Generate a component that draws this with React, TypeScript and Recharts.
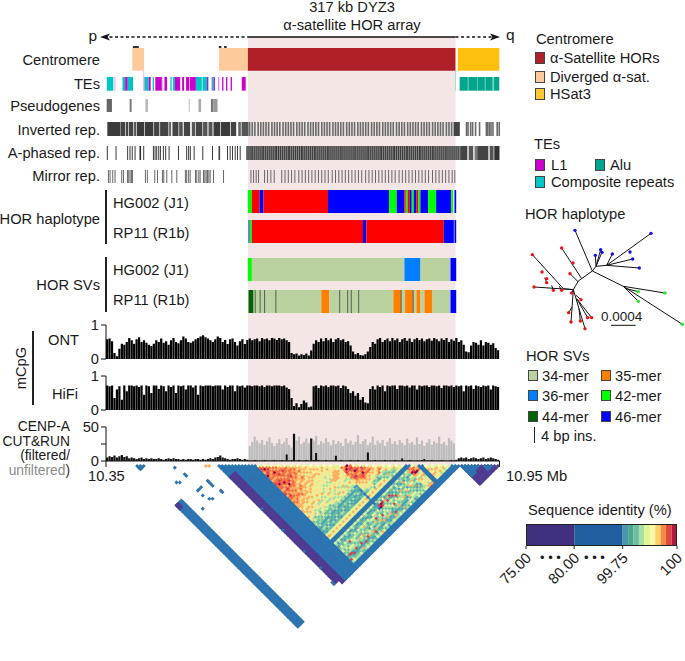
import React from "react";
import {
  Bar,
  BarChart,
  ComposedChart,
  Line,
  ReferenceArea,
  ReferenceLine,
  Scatter,
  ScatterChart,
  XAxis,
  YAxis,
} from "recharts";

const FONT = '"Liberation Sans", Arial, sans-serif';
const PLOT_LEFT = 106;
const PLOT_W = 393.5;
const CHART_W = PLOT_LEFT + PLOT_W + 6;
const X_DOMAIN: [number, number] = [0, 600]; // kb from 10.35 Mb

const RED = "#ff0000";
const BLUE = "#0000ff";
const GREEN = "#00ff00";
const SAGE = "#b9d2a0";
const ORANGE = "#ff8000";
const SKY = "#0080ff";
const DKGREEN = "#006400";
const MAGENTA = "#cc00cc";
const CYAN = "#00c5c5";
const TEAL = "#00a78c";

type Span = [number, number, string];

const centromereSpans: Span[] = [
  [40, 58, "#fdca9b"],
  [172.5, 216.3, "#fdca9b"],
  [216.3, 533, "#b02028"],
  [536.5, 600, "#ffbf0f"],
];
const centromereMarks: Span[] = [
  [41, 50, "#333"],
  [172, 176, "#333"],
  [180, 184, "#333"],
];
const connectorSpans: Span[] = [
  [57, 58, "#e8a0e8"],
  [533, 533.8, "#60c8c0"],
];

const teSpans: Span[] = [
  [1, 11, CYAN], [13, 14, "#e070e0"], [25, 29, CYAN], [29, 33, MAGENTA], [33, 41, CYAN],
  [57, 59, "#e070e0"], [59, 65, CYAN], [65, 68, MAGENTA], [71, 73, CYAN], [75, 85, MAGENTA],
  [85, 86, "#e070e0"], [89, 93, MAGENTA], [98, 100, CYAN], [102, 105, CYAN], [105, 113, MAGENTA],
  [116, 119, MAGENTA], [122, 127, MAGENTA], [128, 137, MAGENTA], [137, 146, CYAN], [147, 154, CYAN],
  [154, 156, MAGENTA], [161, 164, CYAN], [164, 166, MAGENTA], [171.5, 172.5, MAGENTA],
  [177, 179, MAGENTA], [183, 185, MAGENTA], [190, 192, MAGENTA], [207, 213, MAGENTA],
  [533, 533.8, "#60c8c0"], [539.5, 552, TEAL], [552, 553, "#50c0a8"], [553, 566, TEAL],
  [566, 567, "#50c0a8"], [567, 578, TEAL], [578, 579, "#50c0a8"], [579, 590, TEAL],
  [590, 592, "#80d0c0"], [592, 600, TEAL],
];

const pseudogeneSpans: Span[] = [
  [1, 9, "#666"], [36, 39, "#777"], [60, 64, "#bbb"], [126, 128, "#ccc"],
  [141, 145, "#aaa"], [160, 164, "#777"], [164, 170, "#999"],
];

const invertedSpans: Span[] = [
  [2, 21.4, "#3b3b3b"], [21.9, 29, "#444"], [30, 34, "#444"], [35, 41.7, "#444"], [42.8, 45.8, "#555"],
  [46.8, 58, "#3b3b3b"], [59, 72.3, "#3b3b3b"], [73.3, 81.4, "#444"], [82.5, 95.2, "#444"],
  [96.2, 99.3, "#666"], [101.3, 110.5, "#444"], [111.5, 117, "#555"], [118.6, 128.3, "#444"],
  [130.8, 135.9, "#555"], [136.9, 147, "#444"], [148, 154.7, "#555"], [156.3, 162.4, "#555"],
  [163.9, 174, "#3b3b3b"], [175, 189.3, "#3b3b3b"], [190.4, 198.5, "#444"], [201.6, 205.6, "#666"],
  [206.7, 217.3, "#555"], [530, 539.5, "#444"],
];
const invertedTicks = [
  219, 223, 227, 232, 236, 240, 244, 248, 253, 257, 261, 265, 270, 274, 278, 282, 286, 291, 295, 299,
  303, 308, 312, 316, 320, 324, 329, 333, 337, 341, 346, 350, 354, 358, 362, 367, 371, 375, 379, 384,
  388, 392, 396, 400, 405, 409, 413, 417, 422, 426, 430, 434, 438, 443, 447, 451, 455, 460, 464, 468,
  472, 476, 481, 485, 489, 493, 498, 502, 506, 510, 514, 519, 523, 527,
  549.7, 552, 556, 559, 563.5, 569.6, 580, 582, 584.5, 587, 590, 596.5, 599.6,
];

const aPhasedSpans: Span[] = [
  [214, 539.5, "#8a8a8a"], [51, 53.5, "#333"], [171.5, 174, "#444"],
  [540, 551, "#444"], [553, 560, "#555"], [562, 566, "#777"], [566, 583, "#444"],
  [585, 591, "#555"], [592, 600, "#333"],
];
const aPhasedTicks = [
  2, 15.3, 33, 36.6, 40, 44.3, 57.5, 72.3, 74.8, 77.3, 80.4, 83, 87.5, 91, 96.2, 110.5, 123, 126, 128.6,
  134.4, 147.6, 162.4, 185.3, 189.3, 192.9, 197, 200.5, 204.6,
  215, 218, 221, 223, 226, 229, 232, 235, 238, 240, 243, 246, 249, 252, 255, 258, 260, 263, 266, 269,
  272, 275, 278, 280, 283, 286, 289, 292, 295, 298, 300, 303, 306, 309, 312, 315, 318, 320, 323, 326,
  329, 332, 335, 338, 340, 343, 346, 349, 352, 355, 358, 360, 363, 366, 369, 372, 375, 378, 380, 383,
  386, 389, 392, 395, 398, 400, 403, 406, 409, 412, 415, 418, 420, 423, 426, 429, 432, 435, 438, 440,
  443, 446, 449, 452, 455, 458, 460, 463, 466, 469, 472, 475, 478, 480, 483, 486, 489, 492, 495, 498,
  500, 503, 506, 509, 512, 515, 518, 520, 523, 526, 529, 532, 535, 538,
];

const mirrorTicks = [
  3.6, 6.1, 10.2, 13.7, 23.9, 26.5, 32.6, 34.6, 36.6, 38.7, 40.2, 60, 63, 74.3, 78.4, 86, 88, 92.6, 100.3,
  107.9, 121, 123, 126, 128.3, 136.4, 138.4, 141.5, 143.5, 148.6, 150.7, 152.7, 154.7, 156.8, 158.8,
  163.9, 179.2, 221, 225, 229, 232.6, 241.8, 246.4, 251.4, 256.5, 268, 273, 278, 283, 288, 294, 299, 304,
  309, 314, 319, 324, 329, 334, 339, 345, 350, 355, 360, 365, 370, 375, 380, 385, 390, 396, 401, 406,
  411, 416, 421, 426, 431, 436, 441, 447, 452, 457, 462, 467, 472, 477, 482, 487, 492, 498, 503, 508,
  513, 518, 523, 528, 532,
];

const hapHG002: Span[] = [
  [216.3, 222.4, GREEN], [222.4, 234.1, RED], [234.1, 240.2, BLUE], [240.2, 338.5, RED], [338.5, 431.6, BLUE],
  [431.6, 443.3, GREEN], [443.3, 455, BLUE], [455, 457.1, RED], [457.1, 460.1, GREEN], [460.1, 463.2, RED],
  [463.2, 466.2, BLUE], [466.2, 469.3, GREEN], [469.3, 473.4, BLUE], [473.4, 476.4, RED], [476.4, 479.5, GREEN],
  [479.5, 491.2, BLUE], [491.2, 503.4, GREEN], [503.4, 526.3, BLUE], [526.3, 529.4, GREEN], [531.4, 534, BLUE],
];
const hapRP11: Span[] = [
  [217.3, 218.9, BLUE], [218.9, 222.4, GREEN], [222.4, 391.9, RED], [391.9, 397, BLUE], [397, 515.1, RED],
  [515.1, 530.4, BLUE], [531.4, 534, BLUE],
];
const svHG002: Span[] = [
  [216.3, 222.4, GREEN], [222.4, 455, SAGE], [455, 479.5, SKY], [479.5, 525.3, SAGE], [525.3, 534, BLUE],
];
const svRP11: Span[] = [
  [217.3, 225, DKGREEN], [225, 328.3, SAGE], [328.3, 340.5, ORANGE], [340.5, 438.2, SAGE], [438.2, 450, ORANGE],
  [450, 456, SAGE], [456, 468.3, ORANGE], [468.3, 473.4, SAGE], [473.4, 479.5, ORANGE], [479.5, 485.6, SAGE],
  [485.6, 497.8, ORANGE], [497.8, 525.3, SAGE], [525.3, 534, BLUE],
];
const insertionTicks = [227.5, 235, 241.8, 259, 356.3, 368.5, 374, 385.3, 450, 468.3];

const BIN_KB = 3.75;
const ontValues = [
  0.58, 0.6, 0.52, 0.18, 0.08, 0.3, 0.45, 0.42, 0.5, 0.62, 0.55, 0.45, 0.58, 0.64, 0.5, 0.55, 0.48, 0.42, 0.38, 0.45,
  0.55, 0.5, 0.6, 0.48, 0.52, 0.42, 0.55, 0.62, 0.5, 0.46, 0.55, 0.66, 0.6, 0.5, 0.48, 0.52, 0.58, 0.62, 0.66, 0.7,
  0.64, 0.6, 0.55, 0.5, 0.58, 0.66, 0.62, 0.5, 0.56, 0.44, 0.58, 0.6, 0.5, 0.4, 0.52, 0.58, 0.44, 0.56, 0.6, 0.55,
  0.58, 0.6, 0.52, 0.62, 0.58, 0.6, 0.55, 0.62, 0.6, 0.56, 0.62, 0.58, 0.6, 0.55, 0.5, 0.18, 0.14, 0.16, 0.1, 0.14,
  0.12, 0.16, 0.1, 0.25, 0.45, 0.55, 0.5, 0.6, 0.52, 0.62, 0.55, 0.6, 0.5, 0.58, 0.62, 0.55, 0.58, 0.5, 0.52, 0.4,
  0.22, 0.14, 0.18, 0.12, 0.1, 0.14, 0.22, 0.35, 0.5, 0.45, 0.58, 0.62, 0.5, 0.56, 0.6, 0.52, 0.62, 0.55, 0.6, 0.5,
  0.58, 0.62, 0.54, 0.6, 0.5, 0.58, 0.62, 0.56, 0.6, 0.52, 0.58, 0.6, 0.54, 0.62, 0.58, 0.52, 0.6, 0.56, 0.62, 0.5,
  0.58, 0.54, 0.62, 0.5, 0.55, 0.42, 0.22, 0.2, 0.4, 0.5, 0.48, 0.42, 0.55, 0.4, 0.5, 0.48, 0.42, 0.46, 0.32, 0.26,
];
const hifiValues = [
  0.72, 0.7, 0.72, 0.35, 0.6, 0.7, 0.3, 0.72, 0.55, 0.72, 0.72, 0.7, 0.72, 0.68, 0.72, 0.45, 0.72, 0.7, 0.5, 0.72,
  0.72, 0.62, 0.72, 0.7, 0.55, 0.72, 0.68, 0.72, 0.5, 0.72, 0.7, 0.72, 0.6, 0.72, 0.72, 0.66, 0.72, 0.45, 0.72, 0.7,
  0.72, 0.72, 0.72, 0.7, 0.72, 0.72, 0.72, 0.6, 0.72, 0.68, 0.72, 0.72, 0.55, 0.72, 0.7, 0.72, 0.66, 0.72, 0.72, 0.7,
  0.72, 0.72, 0.7, 0.72, 0.68, 0.72, 0.72, 0.7, 0.72, 0.72, 0.72, 0.7, 0.72, 0.66, 0.62, 0.35, 0.12, 0.2, 0.08, 0.18,
  0.28, 0.22, 0.08, 0.1, 0.7, 0.72, 0.65, 0.72, 0.7, 0.72, 0.68, 0.72, 0.72, 0.7, 0.72, 0.65, 0.72, 0.7, 0.62, 0.5,
  0.55, 0.42, 0.5, 0.3, 0.38, 0.22, 0.2, 0.62, 0.7, 0.6, 0.72, 0.68, 0.72, 0.55, 0.72, 0.7, 0.72, 0.72, 0.62, 0.72,
  0.72, 0.7, 0.72, 0.66, 0.72, 0.72, 0.6, 0.72, 0.7, 0.72, 0.72, 0.68, 0.72, 0.72, 0.7, 0.72, 0.65, 0.72, 0.72, 0.7,
  0.72, 0.68, 0.72, 0.7, 0.72, 0.55, 0.72, 0.7, 0.72, 0.62, 0.72, 0.7, 0.68, 0.72, 0.7, 0.72, 0.6, 0.72, 0.7, 0.68,
];
const cenpFiltered = [
  5, 7, 6, 8, 5, 7, 9, 6, 7, 4, 5, 4, 3, 4, 5, 3, 4, 3, 4, 3, 3, 4, 3, 2, 3, 4, 3, 4, 3, 3, 2, 3, 2, 3, 3, 2, 3, 3, 2, 3,
  2, 3, 4, 3, 5, 6, 8, 5, 4, 3, 2, 3, 3, 4, 3, 2, 3, 2,
  1, 1, 2, 1, 1, 1, 2, 1, 1, 1, 2, 1, 1, 2, 1, 10, 1, 2, 40, 1, 2, 1, 1, 2, 1, 33, 2, 12, 2, 1, 1, 2, 1, 1, 1, 8,
  1, 2, 1, 1, 1, 2, 1, 1, 2, 1, 1, 1, 13, 1, 1, 2, 1, 1, 1, 2, 1, 1, 1, 2, 1, 1, 4, 1, 1, 2, 1, 1, 1, 1, 2, 3,
  1, 1, 2, 1, 1, 1, 2, 1, 1, 1, 2, 1,
  2, 4, 5, 4, 5, 3, 4, 5, 4, 3, 4, 5, 3, 4, 5, 4, 3, 2,
];
const CENP_HOR_FIRST_BIN = 58;
const cenpUnfilteredHor = [
  22, 28, 36, 30, 26, 31, 24, 29, 35, 27, 22, 26, 32, 25, 28, 34, 24, 20, 27, 30,
  36, 25, 28, 33, 26, 22, 30, 37, 24, 29, 26, 34, 28, 23, 31, 25, 29, 27, 22, 33,
  26, 30, 24, 28, 38, 25, 29, 32, 23, 27, 36, 24, 30, 26, 31, 22, 28, 34, 25, 29,
  24, 31, 27, 23, 33, 26, 28, 24, 35, 25, 30, 22, 27, 32, 24, 29, 26, 36, 25, 28,
  23, 34, 30, 26,
];

// identity levels of the pairwise heatmap
const heatColors: Record<string, string> = {
  P: "#4e3a92",
  B: "#2b74b0",
  t: "#4f9fb0",
  g: "#69c1a4",
  l: "#abdda4",
  y: "#e2f49a",
  w: "#ffffbf",
  o: "#fee08b",
  O: "#fdae61",
  r: "#f46d43",
  R: "#d53e4f",
  D: "#9e0142",
};
const HEAT_BIN_KB = 5;
const HEAT_FIRST_ROW = 46;
// one row per left-hand bin of the HOR array, cells run from the diagonal out
const heatRows = [
  "wrRrOrDrrOrRrr rOrROrrOrOO OoOOyoOyogl lgtgtgyOy BB yltglygltgRl",
  "yrDrRrOrOrrDr rOrOrRrOOrO OOyoOoyolyg gltlgtyOy BB ltgylglgRgly",
  "wrRrOrrOrRrr OrRrOOrOrOo OoyOoOyoglg ltgltgyoy BB ylgglyglRtgl",
  "yrOrDrrOrrD rOrOrOOrOoO OyoOoyolygl gtgtlgyOy BB ltgylgyltRgl",
  "wrOrrRrOrr rDrOOrOrOoO oOyoOylyolg ltgltgyoy BB ygtlglylgtgl",
  "yrOrOrrOr ROrrOOoOrOo OoyOyoylgly gtltgtyOy BB ltglRgylRtgy",
  "wOrRrOrr OrrOoOrOoOo OyoOyoylyog ltgtlgyoy BB yltgylglgtlg",
  "yOrrOrR rOOoOrOoOOy oOyoylyoylg gltgtgyOy BB lgtglylgltOg",
  "wrOrrO OrOoOoOOyoO yoyoOlyolyg ltgtlgyoy BB ytlgyglgRtgl",
  "yOrOr rOoOOoOyoOo yoOyolyoylg gtgltgyOy BB ltgylgOlgtly",
  "wOrO OoOrOoOyOoy oyoylyolygl ltgtgtyoy BB yltglgylgRgl",
  "yOo rOoOoyOoOoy oyoOylyloyg gltglgyOy BB lgtylgOgltgy",
  "wO OoOyoOoOoyo yoylyoylyol ltgtlgyoy BB ytglgyglRtlg",
  "y oOoOyoOoyoy oylyoOyolyl gtgltgyOy BB ltgylglgOgtl",
  "wOoyOoOoyoy ylyoylyolyo ltgtgtyoy BB ygtlOglylgtg",
  "yoOoyOyoyo oylyOyolyly gtlgtgyOy BB ltgylgtlOgly",
  "woOyoOyoy ylyoyolyOyl ltgtlgyoy BB ytgltgylgRtl",
  "yoOoyoyl oylyoOyolyo gtgltgyOy BB lgtylgltOgly",
  "wyoOyoy ylOyoyloyOy ltgtgtyoy BB yltgyglgltgO",
  "yOoyoy oyOOyoylyoy gtglttyOy BB ltgtylOgltgy",
  "wyOoy yOOOyoyOlyl ltgtgtyoy BB ytgylRglgtlg",
  "yoyo OOOOoyoylOy gtltgtyOy BB ltgylglOgtyl",
  "wyo OOOyoylyoyl ltgltgyoy BB ygtlgylgOglt",
  "yo yOoyoylyOyl tgtgtgyOy BB ltgylgRlgtgl",
  "y yoyoyOylyoy tttBtBtBt BB BttBlgylOgtl",
  "wrOrRrOrOoO oyoylgyOy BB ltRDgylgltgy",
  "yrDrOrrRrO Ooyolgyoy BB gyDRlgylOgtl",
  "DrRrOrRrO oOyoylyOy BB ltRgylgltgOl",
  "rRrDrOrr OoOyolyoy BB gyOlgyltgRgl",
  "wrRrOrR rOoyoygOy BB ltgRlgylgtly",
  "yrOrDr OoOylgyoy BB ygOgylRgltgl",
  "wRrOr oOyoglyOy BB lgRtlgylOgty",
  "yrOr OoyolgyOy BB ytgRgylgltOg",
  "wOr oOylgtyoy BB lgtlRgylgtgl",
  "yO OoyOlgyOy BB ygltgOlygtlg",
  "w oyOrylgyo BB ltglgylOgtly",
  "wOrylglgy BB gyltOglgtlyg",
  "yOylgOly BB ltgyglglOgyl",
  "wyOlglg BB ygtlgyOglylt",
  "yoylgy BB glOgltyglylg",
  "wylgl BB lgtylOglgyly",
  "yOly BB yglglyOgltyg",
  "wyo BB gltgOylgtlgy",
  "yy BB ylgylgltOglg",
  "w BB lOgylgyltgly",
  "BB rODrOyOyoyly",
  "B OrRDOylOyoyO",
  "wrODlyOyoylO",
  "yOryoOlyoyO",
  "BBBBBBBBBB",
  "BBBBBBBBB",
  "wyOoyOoy",
  "yoOyOoy",
  "wyOoyo",
  "yOyOl",
  "wyoy",
  "yOl",
  "wy",
  "y",
];
// rectangles in bin space: first row, last row, first col, last col, level
const heatBlocks: [number, number, number, number, string][] = [
  [34, 37, 34, 40, "B"],
  [34, 35, 41, 105, "P"],
  [36, 37, 41, 107, "P"],
  [38, 45, 38, 107, "B"],
  [46, 104, 105, 107, "B"],
  [105, 107, 105, 107, "B"],
  [33, 33, 104, 105, "B"],
  [34, 34, 60, 60, "B"],
  [34, 34, 73, 73, "B"],
  [34, 34, 86, 86, "B"],
  [34, 34, 96, 96, "B"],
  [9, 11, 9, 11, "B"],
  [9, 12, 33, 107, "B"],
  [9, 10, 33, 35, "P"],
  [108, 119, 108, 119, "P"],
  [108, 110, 108, 114, "B"],
  [111, 113, 111, 113, "B"],
  [115, 118, 115, 117, "B"],
  [20, 20, 21, 21, "B"],
  [21, 21, 26, 27, "B"],
  [16, 16, 26, 26, "B"],
  [17, 17, 27, 27, "B"],
  [26, 26, 35, 38, "B"],
  [20, 22, 35, 35, "B"],
  [20, 20, 38, 38, "B"],
  [27, 27, 42, 43, "B"],
  [21, 21, 41, 41, "B"],
  [22, 22, 42, 42, "B"],
  [16, 16, 42, 42, "B"],
  [30, 30, 30, 30, "O"],
  [31, 31, 31, 31, "O"],
];

const treeTipsRed = [
  [67, 763], [96, 815], [110, 835], [110, 847], [72, 860], [130, 870], [155, 870], [155, 743], [189, 788],
  [180, 820], [185, 878], [176, 937], [183, 965], [213, 898], [211, 962], [225, 985], [233, 952], [245, 952],
];
const treeTipsBlue = [
  [195, 690], [256, 765], [272, 748], [276, 756], [307, 761], [423, 699], [360, 755], [368, 776], [388, 803],
];
const treeTipsGreen = [
  [385, 874], [465, 878], [385, 903], [517, 972],
];
const treeBranches = [
  [190, 868, 205, 842], [205, 842, 247, 812], [247, 812, 195, 690], [247, 812, 258, 798], [258, 798, 256, 765],
  [258, 798, 272, 748], [258, 798, 276, 756], [258, 798, 290, 795], [290, 795, 307, 761], [290, 795, 423, 699],
  [290, 795, 368, 776], [290, 795, 388, 803], [247, 812, 340, 858], [340, 858, 517, 972], [340, 858, 465, 878],
  [340, 858, 385, 903], [350, 865, 385, 874], [215, 835, 155, 743], [205, 845, 180, 820], [190, 868, 160, 865],
  [160, 865, 67, 763], [190, 868, 72, 860], [125, 855, 130, 870], [148, 858, 155, 870], [104, 832, 110, 847],
  [190, 868, 185, 878], [190, 868, 183, 965], [186, 920, 176, 937], [190, 868, 225, 985], [198, 885, 213, 898],
  [207, 925, 211, 962], [200, 895, 233, 952], [200, 895, 245, 952],
];
const treeScaleBar = [303, 975, 377, 975];

const colorbarSteps = [
  { value: 48, color: "#41307f" },
  { value: 48.3, color: "#225f9e" },
  { value: 5.4, color: "#4a97b0" },
  { value: 5.4, color: "#4aa888" },
  { value: 5.4, color: "#66bfa5" },
  { value: 5.4, color: "#abdda4" },
  { value: 5.4, color: "#dff58e" },
  { value: 5.4, color: "#fdf8a8" },
  { value: 5.4, color: "#fcd268" },
  { value: 5.4, color: "#f58a45" },
  { value: 5.4, color: "#e2453c" },
  { value: 5.3, color: "#b01840" },
];
const colorbarTickPos = [0, 48, 96.3, 150.4];
const colorbarTickText = ["75.00", "80.00", "99.75", "100"];

const centromereLegend = [
  { label: "α-Satellite HORs", color: "#b02028", y: 52 },
  { label: "Diverged α-sat.", color: "#fdca9b", y: 71 },
  { label: "HSat3", color: "#ffc832", y: 88 },
];
const svLegend = [
  { label: "34-mer", color: SAGE, col: 0, y: 370 },
  { label: "35-mer", color: ORANGE, col: 1, y: 370 },
  { label: "36-mer", color: SKY, col: 0, y: 390 },
  { label: "42-mer", color: GREEN, col: 1, y: 390 },
  { label: "44-mer", color: DKGREEN, col: 0, y: 411 },
  { label: "46-mer", color: BLUE, col: 1, y: 411 },
];

function Text({ x, y, right, color, size, children }: any) {
  const pos = right !== undefined ? { right: 685 - right } : { left: x };
  return (
    <div
      style={{
        position: "absolute",
        top: y,
        transform: "translateY(-50%)",
        fontFamily: FONT,
        fontSize: size ?? 14.7,
        color: color ?? "#1a1a1a",
        whiteSpace: "nowrap",
        lineHeight: 1,
        ...pos,
      }}
    >
      {children}
    </div>
  );
}

function Swatch({ x, y, w, h, color }: any) {
  return (
    <div
      style={{
        position: "absolute",
        left: x,
        top: y,
        width: w ?? 10,
        height: h ?? 11,
        background: color,
        boxSizing: "border-box",
        border: "1px solid #444",
      }}
    />
  );
}

function VBar({ x, y1, y2 }: any) {
  return <div style={{ position: "absolute", left: x - 1, top: y1, width: 2, height: y2 - y1, background: "#222" }} />;
}

// one horizontal genome track, intervals and ticks go through the shared kb axis
function Track({ top, height, spans, ticks, tickColor, tickWidth }: any) {
  return (
    <div style={{ position: "absolute", left: 0, top }}>
      <ComposedChart
        width={CHART_W}
        height={height}
        data={[{ x: 0, base: 0 }, { x: 600, base: 0 }]}
        margin={{ left: PLOT_LEFT, right: 6, top: 0, bottom: 0 }}
      >
        <XAxis type="number" dataKey="x" domain={X_DOMAIN} hide />
        <YAxis type="number" domain={[0, 1]} hide />
        <Line dataKey="base" stroke="none" dot={false} isAnimationActive={false} />
        {(spans ?? []).map((s: Span, i: number) => (
          <ReferenceArea key={i} x1={s[0]} x2={s[1]} y1={0} y2={1} fill={s[2]} fillOpacity={1} stroke="none" ifOverflow="visible" />
        ))}
        {(ticks ?? []).map((t: number, i: number) => (
          <ReferenceLine key={i} x={t} stroke={tickColor ?? "#555"} strokeWidth={tickWidth ?? 1} ifOverflow="visible" />
        ))}
      </ComposedChart>
    </div>
  );
}

// signal tracks: baseline sits at top + 10 + plotH
function SignalTrack({ baseline, plotH, rows, keys, domain, ticks, showAxis }: any) {
  const axisTick = { fontSize: 14.7, fill: "#1a1a1a", fontFamily: FONT };
  return (
    <div style={{ position: "absolute", left: 0, top: baseline - plotH - 10 }}>
      <ComposedChart
        width={CHART_W}
        height={plotH + 20}
        data={rows}
        margin={{ left: 0, right: 6, top: 10, bottom: showAxis ? 0 : 10 }}
        barCategoryGap={0}
      >
        <XAxis
          type="number"
          dataKey="x"
          domain={X_DOMAIN}
          ticks={[0, 600]}
          hide={!showAxis}
          height={10}
          tickSize={6}
          stroke="#111"
          tick={() => <g />}
          allowDataOverflow
        />
        <YAxis
          type="number"
          width={PLOT_LEFT}
          domain={domain}
          ticks={ticks}
          interval={0}
          tickSize={5}
          tickMargin={2}
          stroke="#111"
          tick={axisTick}
          tickFormatter={(v: number) => (v === 25 ? "" : String(v))}
          allowDataOverflow
        />
        {keys.map((k: any) => (
          <Bar key={k.key} dataKey={k.key} stackId="a" fill={k.color} barSize={3} isAnimationActive={false} />
        ))}
      </ComposedChart>
    </div>
  );
}

function buildHeatCells() {
  const cells: { x: number; y: number; fill: string }[] = [];
  const push = (a: number, b: number, level: string) => {
    if (b < a) return;
    cells.push({
      x: (HEAT_BIN_KB / 2) * (a + b + 1),
      y: (HEAT_BIN_KB / 2) * (b - a),
      fill: heatColors[level],
    });
  };
  heatBlocks.forEach(([a1, a2, b1, b2, level]) => {
    for (let a = a1; a <= a2; a++) for (let b = b1; b <= b2; b++) push(a, b, level);
  });
  heatRows.forEach((row, k) => {
    const a = HEAT_FIRST_ROW + k;
    row.replace(/ /g, "").split("").forEach((c, j) => push(a, a + j, c));
  });
  return cells;
}

function HeatCell(props: any) {
  const { cx, cy, payload } = props;
  const r = 2.05;
  return <path d={`M${cx - r} ${cy}L${cx} ${cy - r}L${cx + r} ${cy}L${cx} ${cy + r}Z`} fill={payload.fill} />;
}

function Heatmap() {
  return (
    <div style={{ position: "absolute", left: 0, top: 464 }}>
      <ScatterChart width={CHART_W} height={172} margin={{ left: PLOT_LEFT, right: 6, top: 2, bottom: 6 }}>
        <XAxis type="number" dataKey="x" domain={X_DOMAIN} hide />
        <YAxis type="number" dataKey="y" domain={[0, 250]} reversed hide />
        <Scatter data={buildHeatCells()} shape={HeatCell} isAnimationActive={false} />
      </ScatterChart>
    </div>
  );
}

function Tree() {
  const toPts = (list: number[][]) => list.map(([x, y]) => ({ x, y }));
  const dot = (color: string) => (p: any) => <circle cx={p.cx} cy={p.cy} r={1.7} fill={color} />;
  const seg = (s: number[], i: number, w = 1) => (
    <ReferenceLine
      key={i}
      segment={[{ x: s[0], y: s[1] }, { x: s[2], y: s[3] }]}
      stroke="#111"
      strokeWidth={w}
      ifOverflow="visible"
    />
  );
  return (
    <div style={{ position: "absolute", left: 510, top: 226.67 }}>
      <ScatterChart width={175} height={116.67} margin={{ left: 0, right: 0, top: 0, bottom: 0 }}>
        <XAxis type="number" dataKey="x" domain={[0, 525]} hide />
        <YAxis type="number" dataKey="y" domain={[680, 1030]} reversed hide />
        {treeBranches.map((s, i) => seg(s, i))}
        {seg(treeScaleBar, 999)}
        <Scatter data={toPts(treeTipsRed)} shape={dot("#ee1111")} isAnimationActive={false} />
        <Scatter data={toPts(treeTipsBlue)} shape={dot("#1111ee")} isAnimationActive={false} />
        <Scatter data={toPts(treeTipsGreen)} shape={dot("#22ee22")} isAnimationActive={false} />
      </ScatterChart>
    </div>
  );
}

function ColorbarTick(props: any) {
  const { x, y, index } = props;
  return (
    <g transform={`translate(${x},${y}) rotate(-45)`}>
      <text x={-1.4} y={10} textAnchor="end" fontSize={14.7} fontFamily={FONT} fill="#1a1a1a">
        {colorbarTickText[index]}
      </text>
    </g>
  );
}

function Colorbar() {
  const row: Record<string, number | string> = { name: "identity" };
  colorbarSteps.forEach((s, i) => {
    row[`s${i}`] = s.value;
  });
  return (
    <div style={{ position: "absolute", left: 486, top: 524 }}>
      <BarChart
        width={199}
        height={80}
        layout="vertical"
        data={[row]}
        margin={{ left: 40, right: 8, top: 0, bottom: 0 }}
        barCategoryGap={0}
      >
        <XAxis
          type="number"
          domain={[0, 150.4]}
          ticks={colorbarTickPos}
          interval={0}
          height={58}
          tickSize={3}
          stroke="#222"
          axisLine={false}
          tick={ColorbarTick}
        />
        <YAxis type="category" dataKey="name" hide />
        {colorbarSteps.map((s, i) => (
          <Bar key={i} dataKey={`s${i}`} stackId="c" fill={s.color} isAnimationActive={false} />
        ))}
      </BarChart>
      <div style={{ position: "absolute", left: 40, top: 0, width: 151, height: 22, boxSizing: "border-box", border: "1.5px solid #222" }} />
    </div>
  );
}

function Arrow() {
  const px = (kb: number) => PLOT_LEFT + (kb / 600) * PLOT_W;
  return (
    <svg width={685} height={60} style={{ position: "absolute", left: 0, top: 0 }}>
      <line x1={104} x2={px(216)} y1={37} y2={37} stroke="#111" strokeWidth={1.4} strokeDasharray="3 2.5" />
      <line x1={px(216)} x2={px(533)} y1={37} y2={37} stroke="#111" strokeWidth={1.6} />
      <line x1={px(533)} x2={494} y1={37} y2={37} stroke="#111" strokeWidth={1.4} strokeDasharray="3 2.5" />
      <path d="M100 37L110 33.5L107.5 37L110 40.5Z" fill="#111" />
      <path d="M500 37L490 33.5L492.5 37L490 40.5Z" fill="#111" />
    </svg>
  );
}

export default function App() {
  const ontRows = ontValues.map((v, i) => ({ x: (i + 0.5) * BIN_KB, v }));
  const hifiRows = hifiValues.map((v, i) => ({ x: (i + 0.5) * BIN_KB, v }));
  const cenpRows = cenpFiltered.map((v, i) => {
    const raw = cenpUnfilteredHor[i - CENP_HOR_FIRST_BIN] ?? 0;
    return { x: (i + 0.5) * BIN_KB, filtered: v, extra: Math.max(raw - v, 0) };
  });

  return (
    <div style={{ position: "absolute", left: 0, top: 0, width: 685, height: 661, background: "#fff", overflow: "hidden" }}>
      <Track top={37} height={428} spans={[[216.3, 533, "#f5e6e6"]]} />

      <Arrow />
      <Text right={97} y={36} size={15.5}>p</Text>
      <Text x={506} y={35} size={15.5}>q</Text>
      <div style={{ position: "absolute", left: 202, width: 300, top: 0, textAlign: "center", fontFamily: FONT, fontSize: 14.7, color: "#1a1a1a" }}>
        <div style={{ position: "absolute", width: "100%", top: 0, lineHeight: "15px" }}>317 kb DYZ3</div>
        <div style={{ position: "absolute", width: "100%", top: 18, lineHeight: "15px" }}>α-satellite HOR array</div>
      </div>

      <Track top={45.5} height={2} spans={centromereMarks} />
      <Track top={48} height={22.7} spans={centromereSpans} />
      <Track top={70.7} height={6.3} spans={connectorSpans} />
      <Track top={77} height={13.7} spans={teSpans} />
      <Track top={98.7} height={13.3} spans={pseudogeneSpans} />
      <Track top={122} height={14} spans={invertedSpans} ticks={invertedTicks} tickColor="#6a6a6a" tickWidth={1.6} />
      <Track top={145.7} height={14} spans={aPhasedSpans} ticks={aPhasedTicks} tickColor="#3a3a3a" />
      <Track top={169.7} height={13.6} ticks={mirrorTicks} tickColor="#666" />
      <Track top={189.7} height={23.3} spans={hapHG002} />
      <Track top={220} height={23.3} spans={hapRP11} />
      <Track top={258} height={23} spans={svHG002} />
      <Track top={289.7} height={23} spans={svRP11} ticks={insertionTicks} tickColor="#556050" />

      <Text right={100} y={60}>Centromere</Text>
      <Text right={100} y={84}>TEs</Text>
      <Text right={100} y={106}>Pseudogenes</Text>
      <Text right={100} y={129.5}>Inverted rep.</Text>
      <Text right={100} y={153}>A-phased rep.</Text>
      <Text right={100} y={176}>Mirror rep.</Text>
      <Text right={100} y={219}>HOR haplotype</Text>
      <VBar x={106} y1={190} y2={244} />
      <Text x={113} y={203}>HG002 (J1)</Text>
      <Text x={113} y={233}>RP11 (R1b)</Text>
      <Text right={100} y={285}>HOR SVs</Text>
      <VBar x={106} y1={257} y2={312} />
      <Text x={113} y={270}>HG002 (J1)</Text>
      <Text x={113} y={300}>RP11 (R1b)</Text>

      <SignalTrack baseline={359} plotH={34} rows={ontRows} keys={[{ key: "v", color: "#000" }]} domain={[0, 1]} ticks={[0, 1]} />
      <SignalTrack baseline={409.7} plotH={34} rows={hifiRows} keys={[{ key: "v", color: "#000" }]} domain={[0, 1]} ticks={[0, 1]} />
      <SignalTrack
        baseline={461}
        plotH={34}
        rows={cenpRows}
        keys={[
          { key: "filtered", color: "#111" },
          { key: "extra", color: "#bdbdbd" },
        ]}
        domain={[0, 50]}
        ticks={[0, 25, 50]}
        showAxis
      />

      <div style={{ position: "absolute", left: 21, top: 368, transform: "translate(-50%,-50%) rotate(-90deg)", fontFamily: FONT, fontSize: 14.7, color: "#1a1a1a" }}>mCpG</div>
      <VBar x={33} y1={331} y2={405} />
      <Text right={79} y={340}>ONT</Text>
      <Text right={78} y={394}>HiFi</Text>
      <Text right={70} y={427} size={13.8}>CENP-A</Text>
      <Text right={70} y={441.5} size={13.8}>CUT&amp;RUN</Text>
      <Text right={70} y={456} size={13.8}>(filtered/</Text>
      <Text right={70} y={470.5} size={13.8} color="#8c8c8c">unfiltered<span style={{ color: "#333" }}>)</span></Text>
      <Text x={88} y={476}>10.35</Text>
      <Text x={506} y={476}>10.95 Mb</Text>

      <Heatmap />

      <Text x={536} y={39}>Centromere</Text>
      {centromereLegend.map((d) => (
        <React.Fragment key={d.label}>
          <Swatch x={535} y={d.y} h={12} color={d.color} />
          <Text x={550} y={d.y + 6}>{d.label}</Text>
        </React.Fragment>
      ))}
      <Text x={534} y={144}>TEs</Text>
      <Swatch x={535} y={159} h={12} color={MAGENTA} />
      <Text x={551} y={165}>L1</Text>
      <Swatch x={595} y={159} h={12} color={TEAL} />
      <Text x={610} y={165}>Alu</Text>
      <Swatch x={535} y={176} h={12} color={CYAN} />
      <Text x={551} y={182}>Composite repeats</Text>

      <Text x={525} y={214}>HOR haplotype</Text>
      <Tree />
      <Text x={601} y={317} size={13.5}>0.0004</Text>

      <Text x={526} y={356}>HOR SVs</Text>
      {svLegend.map((d) => {
        const x = d.col === 0 ? 528 : 601;
        return (
          <React.Fragment key={d.label}>
            <Swatch x={x} y={d.y} color={d.color} />
            <Text x={x + 14} y={d.y + 5.5}>{d.label}</Text>
          </React.Fragment>
        );
      })}
      <div style={{ position: "absolute", left: 533.5, top: 427, width: 1.5, height: 16, background: "#222" }} />
      <Text x={541} y={436}>4 bp ins.</Text>

      <Text x={528} y={510}>Sequence identity (%)</Text>
      <Colorbar />
      <Text x={540} y={557} size={13}>• • •</Text>
      <Text x={584} y={557} size={13}>• • •</Text>
    </div>
  );
}
